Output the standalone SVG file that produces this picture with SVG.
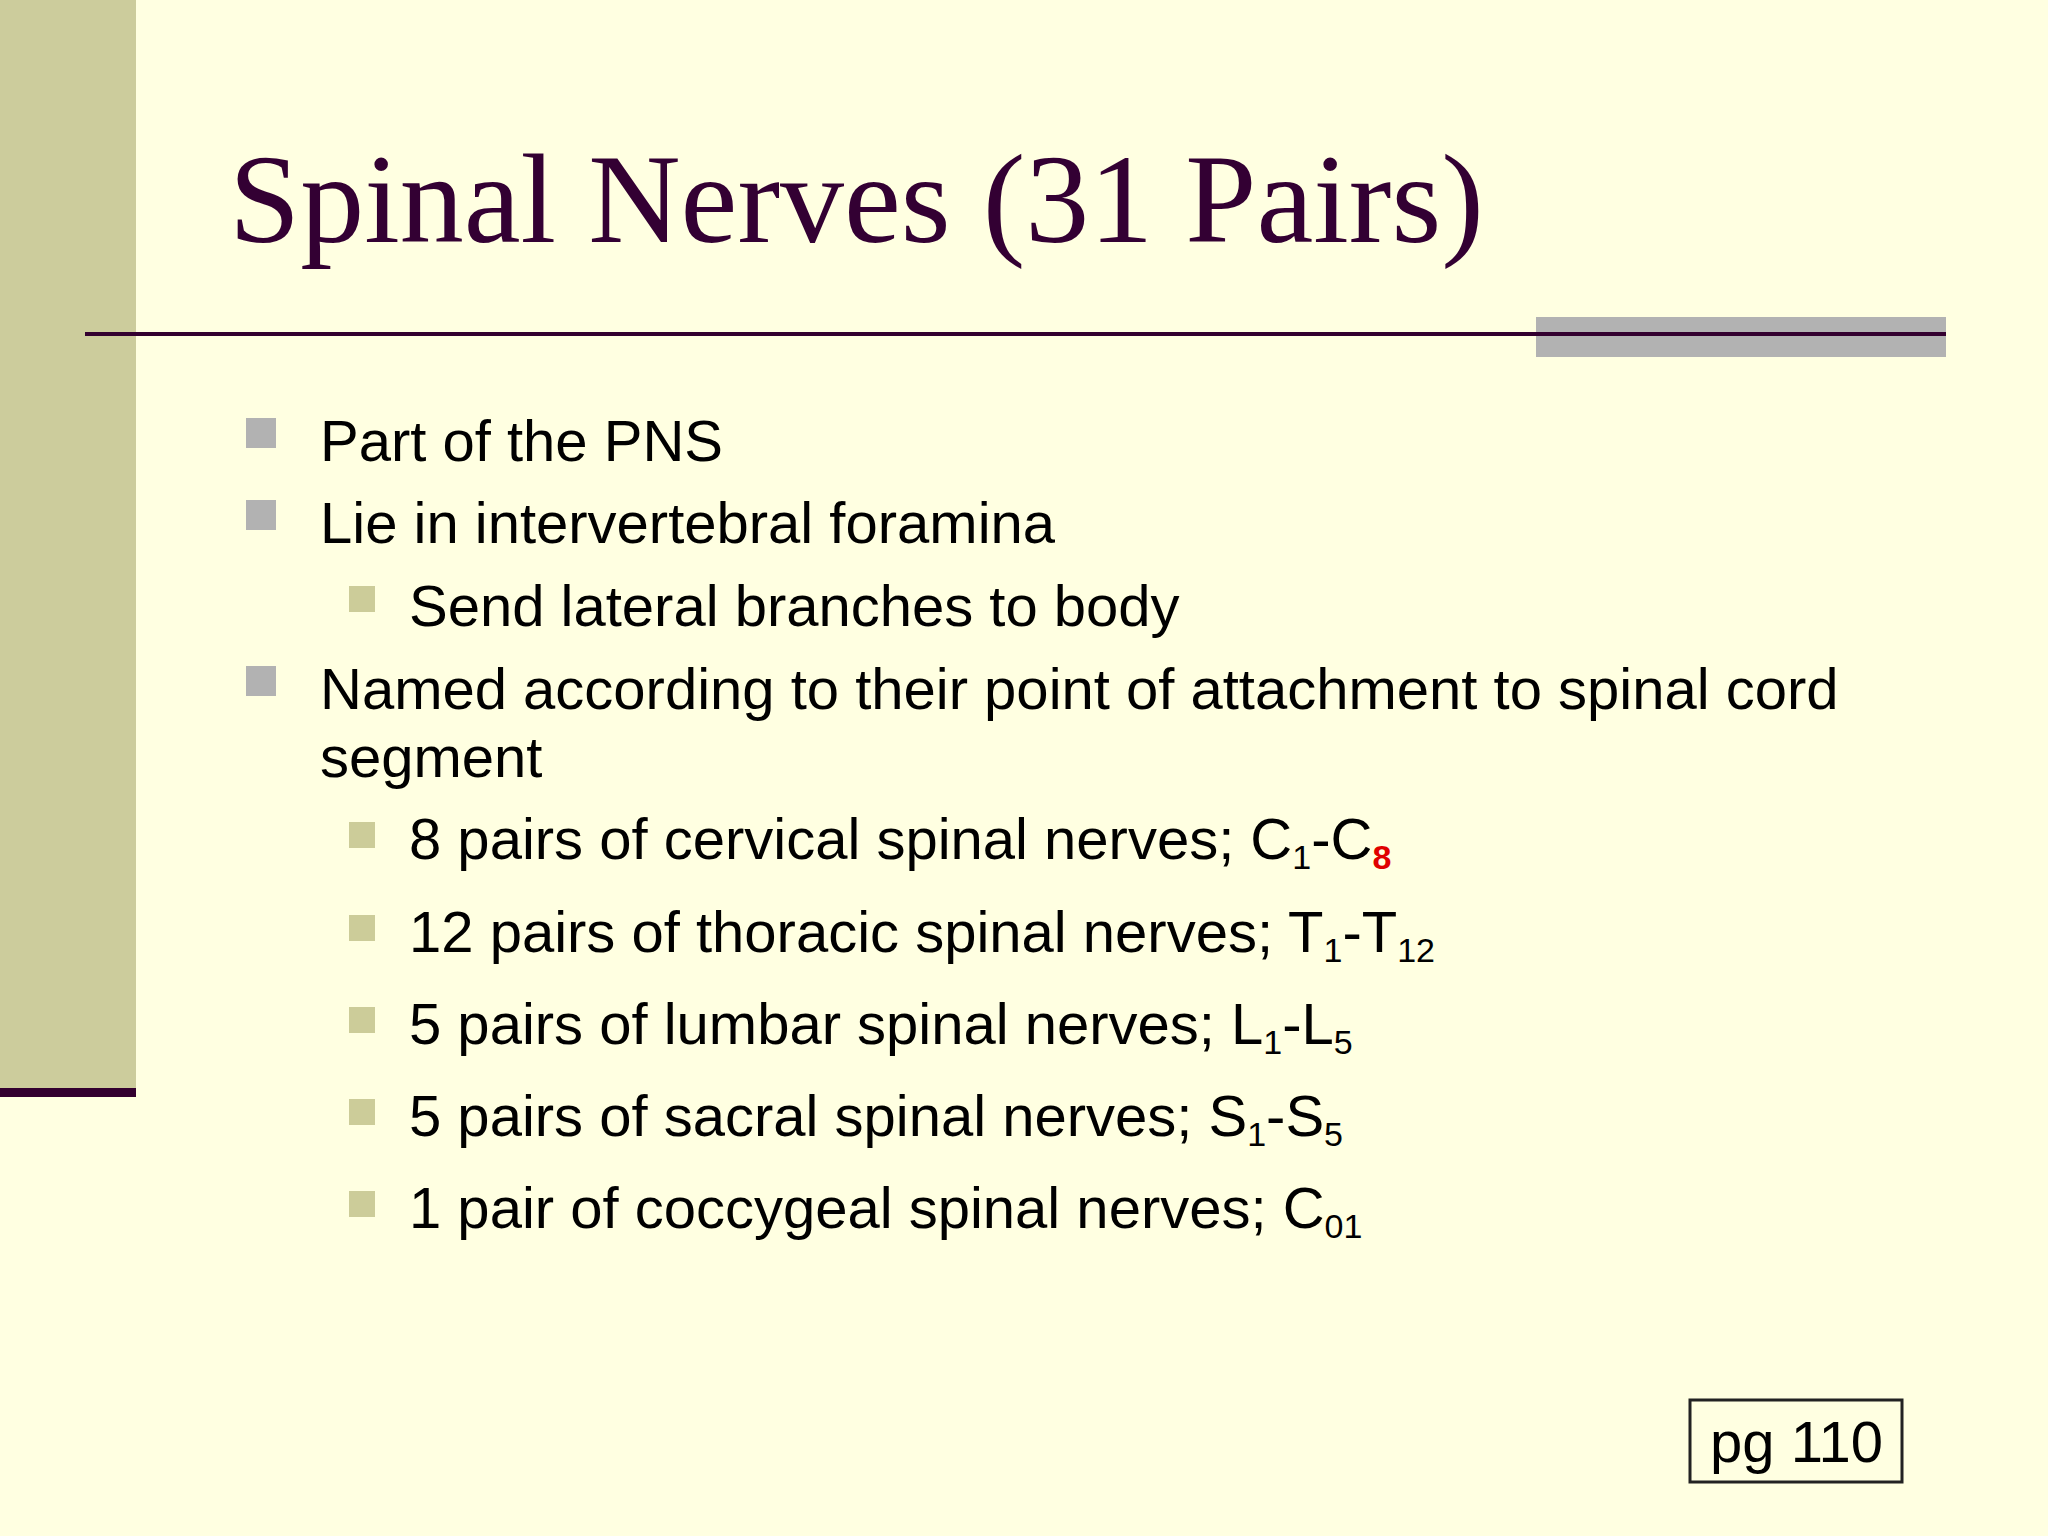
<svg xmlns="http://www.w3.org/2000/svg" width="2048" height="1536" viewBox="0 0 2048 1536">
<style>
.t{font-family:"Liberation Sans",Arial,sans-serif;font-size:58px;fill:#000}
.sub{font-size:34px}
.b1{fill:#b2b2b2}
.b2{fill:#cccc99}
</style>
<rect width="2048" height="1536" fill="#ffffe1"/>
<rect x="0" y="0" width="136" height="1088" fill="#cccc9c"/>
<rect x="0" y="1088" width="136" height="9" fill="#33002f"/>
<text x="229" y="242" font-family="Liberation Serif,serif" font-size="128" fill="#330033">Spinal Nerves (31 Pairs)</text>
<rect x="1536" y="317" width="410" height="40" fill="#b2b2b2"/>
<rect x="85" y="332" width="1861" height="4" fill="#33002f"/>
<g id="bullets">
<rect class="b1" x="246" y="418" width="30" height="30"/>
<rect class="b1" x="246" y="500" width="30" height="30"/>
<rect class="b2" x="349" y="586" width="26" height="26"/>
<rect class="b1" x="246" y="666" width="30" height="30"/>
<rect class="b2" x="349" y="822" width="26" height="26"/>
<rect class="b2" x="349" y="915" width="26" height="26"/>
<rect class="b2" x="349" y="1007" width="26" height="26"/>
<rect class="b2" x="349" y="1099" width="26" height="26"/>
<rect class="b2" x="349" y="1191" width="26" height="26"/>
</g>
<g id="text">
<text class="t" x="320" y="461">Part of the PNS</text>
<text class="t" x="320" y="543">Lie in intervertebral foramina</text>
<text class="t" x="409" y="626">Send lateral branches to body</text>
<text class="t" x="320" y="709">Named according to their point of attachment to spinal cord</text>
<text class="t" x="320" y="777">segment</text>
<text class="t" x="409" y="859">8 pairs of cervical spinal nerves; C<tspan class="sub" dy="10">1</tspan><tspan dy="-10">-C</tspan><tspan class="sub" dy="10" fill="#e00000" font-weight="bold">8</tspan></text>
<text class="t" x="409" y="952">12 pairs of thoracic spinal nerves; T<tspan class="sub" dy="10">1</tspan><tspan dy="-10">-T</tspan><tspan class="sub" dy="10">12</tspan></text>
<text class="t" x="409" y="1044">5 pairs of lumbar spinal nerves; L<tspan class="sub" dy="10">1</tspan><tspan dy="-10">-L</tspan><tspan class="sub" dy="10">5</tspan></text>
<text class="t" x="409" y="1136">5 pairs of sacral spinal nerves; S<tspan class="sub" dy="10">1</tspan><tspan dy="-10">-S</tspan><tspan class="sub" dy="10">5</tspan></text>
<text class="t" x="409" y="1228">1 pair of coccygeal spinal nerves; C<tspan class="sub" dy="10">01</tspan></text>
</g>
<g id="pg">
<rect x="1690" y="1400" width="212" height="82" fill="none" stroke="#222" stroke-width="3"/>
<text class="t" x="1710" y="1462" font-size="52">pg 110</text>
</g>
</svg>
